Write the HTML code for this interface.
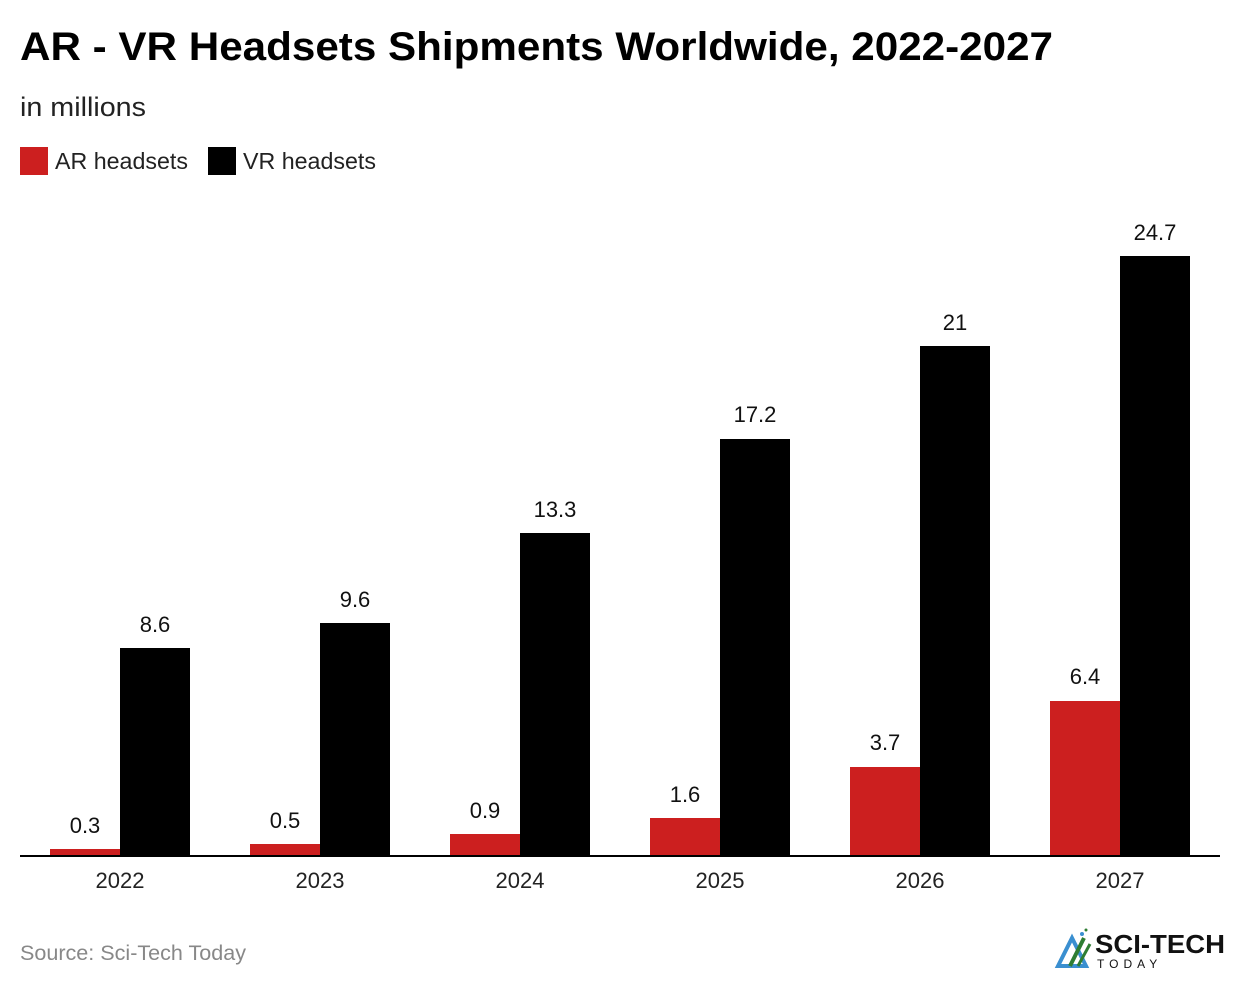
<!DOCTYPE html>
<html><head><style>
html,body{margin:0;padding:0;background:#fff;}
svg{display:block;font-family:"Liberation Sans",Arial,sans-serif;}
</style></head><body>
<svg width="1240" height="988" viewBox="0 0 1240 988" xmlns="http://www.w3.org/2000/svg">
<rect width="1240" height="988" fill="#fff"/>
<text x="20" y="60" font-size="40" font-weight="bold" fill="#000" textLength="1033" lengthAdjust="spacingAndGlyphs">AR - VR Headsets Shipments Worldwide, 2022-2027</text>
<text x="20" y="116" font-size="27" fill="#222" textLength="126" lengthAdjust="spacingAndGlyphs">in millions</text>
<rect x="20" y="147" width="28" height="28" fill="#cc1f1f"/>
<text x="55" y="169" font-size="23" fill="#222" textLength="133" lengthAdjust="spacingAndGlyphs">AR headsets</text>
<rect x="208" y="147" width="28" height="28" fill="#000"/>
<text x="243" y="169" font-size="23" fill="#222" textLength="133" lengthAdjust="spacingAndGlyphs">VR headsets</text>
<g font-size="22" fill="#111" text-anchor="middle">
<rect x="50" y="849" width="70" height="7" fill="#cc1f1f"/><rect x="120" y="648" width="70" height="208" fill="#000"/>
<text x="85" y="833">0.3</text><text x="155" y="632">8.6</text>
<rect x="250" y="844" width="70" height="12" fill="#cc1f1f"/><rect x="320" y="623" width="70" height="233" fill="#000"/>
<text x="285" y="828">0.5</text><text x="355" y="607">9.6</text>
<rect x="450" y="834" width="70" height="22" fill="#cc1f1f"/><rect x="520" y="533" width="70" height="323" fill="#000"/>
<text x="485" y="818">0.9</text><text x="555" y="517">13.3</text>
<rect x="650" y="818" width="70" height="38" fill="#cc1f1f"/><rect x="720" y="439" width="70" height="417" fill="#000"/>
<text x="685" y="802">1.6</text><text x="755" y="422">17.2</text>
<rect x="850" y="767" width="70" height="89" fill="#cc1f1f"/><rect x="920" y="346" width="70" height="510" fill="#000"/>
<text x="885" y="750">3.7</text><text x="955" y="330">21</text>
<rect x="1050" y="701" width="70" height="155" fill="#cc1f1f"/><rect x="1120" y="256" width="70" height="600" fill="#000"/>
<text x="1085" y="684">6.4</text><text x="1155" y="240">24.7</text>
</g>
<line x1="20" y1="856" x2="1220" y2="856" stroke="#000" stroke-width="2"/>
<g font-size="22" fill="#222" text-anchor="middle">
<text x="120" y="888">2022</text><text x="320" y="888">2023</text><text x="520" y="888">2024</text>
<text x="720" y="888">2025</text><text x="920" y="888">2026</text><text x="1120" y="888">2027</text>
</g>
<text x="20" y="960" font-size="21" fill="#888" textLength="226" lengthAdjust="spacingAndGlyphs">Source: Sci-Tech Today</text>
<g>
<polygon points="1058,966 1072,938 1086,966" fill="none" stroke="#3a8fd0" stroke-width="4"/>
<line x1="1070" y1="966" x2="1084" y2="938" stroke="#2e7d32" stroke-width="4"/>
<line x1="1078" y1="966" x2="1090" y2="944" stroke="#2e7d32" stroke-width="3"/>
<circle cx="1082" cy="934" r="2" fill="#3a8fd0"/><circle cx="1086" cy="930" r="1.5" fill="#2e7d32"/>
<text x="1095" y="953" font-size="26" font-weight="bold" fill="#111" textLength="130" lengthAdjust="spacingAndGlyphs">SCI-TECH</text>
<text x="1097" y="968" font-size="12" fill="#111" letter-spacing="5">TODAY</text>
</g>
</svg>
</body></html>
